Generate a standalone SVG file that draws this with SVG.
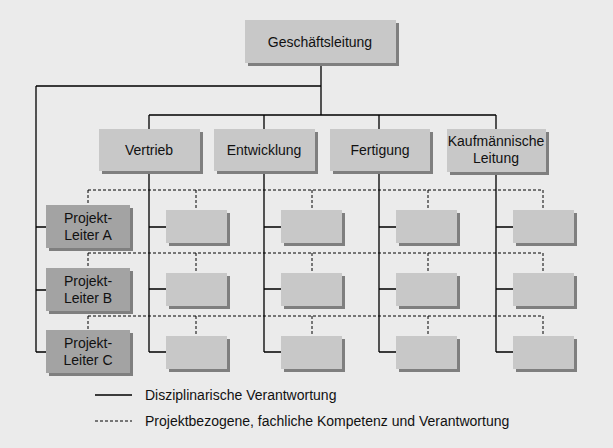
<svg xmlns="http://www.w3.org/2000/svg" width="613" height="448" viewBox="0 0 613 448">
<style>
.b{fill:#c8c8c8}.d{fill:#a3a3a3}.s{fill:#7f7f7f}
.l{stroke:#000;stroke-width:1.3;fill:none}
.dl{stroke:#000;stroke-width:1;stroke-dasharray:3,2;fill:none}
text{font-family:"Liberation Sans",Arial,sans-serif;font-size:14px;fill:#111;text-anchor:middle}
</style>
<rect width="613" height="448" fill="#ebebeb"/>
<g id="connectors">
<path class="l" d="M321 63V115M36 86H321M36 86V352M149 115H496M149 115V129M264 115V129M379 115V129M496 115V129"/>
<path class="l" d="M149 171V352M264 171V352M379 171V352M496 172V352"/>
<path class="l" d="M36 227H46M36 290H46M36 352H46"/>
<path class="l" d="M149 227H166M264 227H281M379 227H396M496 227H513M149 289H166M264 289H281M379 289H396M496 289H513M149 352H166M264 352H281M379 352H396M496 352H513"/>
<path class="dl" d="M88 190H543M88 190V205M196 190V210M312 190V210M428 190V210M543 190V210"/>
<path class="dl" d="M88 253H543M88 253V268M196 253V273M312 253V273M428 253V273M543 253V273"/>
<path class="dl" d="M88 316H543M88 316V330M196 316V336M312 316V336M428 316V336M543 316V336"/>
</g>
<g id="n-gl"><rect class="s" x="248" y="23" width="151" height="43"/><rect class="b" x="245" y="20" width="151" height="43"/><text x="320" y="47">Geschäftsleitung</text></g>
<g id="n-vertrieb"><rect class="s" x="102" y="132" width="101" height="42"/><rect class="b" x="99" y="129" width="101" height="42"/><text x="149" y="155">Vertrieb</text></g>
<g id="n-entw"><rect class="s" x="217" y="132" width="101" height="42"/><rect class="b" x="214" y="129" width="101" height="42"/><text x="264" y="155">Entwicklung</text></g>
<g id="n-fert"><rect class="s" x="333" y="132" width="100" height="42"/><rect class="b" x="330" y="129" width="100" height="42"/><text x="380" y="155">Fertigung</text></g>
<g id="n-kauf"><rect class="s" x="450" y="132" width="99" height="43"/><rect class="b" x="447" y="129" width="99" height="43"/><text x="496" y="146">Kaufmännische</text><text x="496" y="163">Leitung</text></g>
<g id="n-pla"><rect class="s" x="49" y="208" width="84" height="43"/><rect class="d" x="46" y="205" width="84" height="43"/><text x="88" y="223">Projekt-</text><text x="88" y="240">Leiter A</text></g>
<g id="n-plb"><rect class="s" x="49" y="271" width="84" height="43"/><rect class="d" x="46" y="268" width="84" height="43"/><text x="88" y="286">Projekt-</text><text x="88" y="303">Leiter B</text></g>
<g id="n-plc"><rect class="s" x="49" y="333" width="84" height="43"/><rect class="d" x="46" y="330" width="84" height="43"/><text x="88" y="348">Projekt-</text><text x="88" y="365">Leiter C</text></g>
<g id="n-a1"><rect class="s" x="169" y="213" width="61" height="33"/><rect class="b" x="166" y="210" width="61" height="33"/></g>
<g id="n-a2"><rect class="s" x="284" y="213" width="61" height="33"/><rect class="b" x="281" y="210" width="61" height="33"/></g>
<g id="n-a3"><rect class="s" x="399" y="213" width="61" height="33"/><rect class="b" x="396" y="210" width="61" height="33"/></g>
<g id="n-a4"><rect class="s" x="516" y="213" width="61" height="33"/><rect class="b" x="513" y="210" width="61" height="33"/></g>
<g id="n-b1"><rect class="s" x="169" y="276" width="61" height="33"/><rect class="b" x="166" y="273" width="61" height="33"/></g>
<g id="n-b2"><rect class="s" x="284" y="276" width="61" height="33"/><rect class="b" x="281" y="273" width="61" height="33"/></g>
<g id="n-b3"><rect class="s" x="399" y="276" width="61" height="33"/><rect class="b" x="396" y="273" width="61" height="33"/></g>
<g id="n-b4"><rect class="s" x="516" y="276" width="61" height="33"/><rect class="b" x="513" y="273" width="61" height="33"/></g>
<g id="n-c1"><rect class="s" x="169" y="339" width="61" height="33"/><rect class="b" x="166" y="336" width="61" height="33"/></g>
<g id="n-c2"><rect class="s" x="284" y="339" width="61" height="33"/><rect class="b" x="281" y="336" width="61" height="33"/></g>
<g id="n-c3"><rect class="s" x="399" y="339" width="61" height="33"/><rect class="b" x="396" y="336" width="61" height="33"/></g>
<g id="n-c4"><rect class="s" x="516" y="339" width="61" height="33"/><rect class="b" x="513" y="336" width="61" height="33"/></g>
<g id="legend">
<path class="l" d="M95 395H132"/><text x="145" y="400" style="text-anchor:start">Disziplinarische Verantwortung</text>
<path class="dl" d="M95 421H132"/><text x="145" y="426" style="text-anchor:start">Projektbezogene, fachliche Kompetenz und Verantwortung</text>
</g>
</svg>
